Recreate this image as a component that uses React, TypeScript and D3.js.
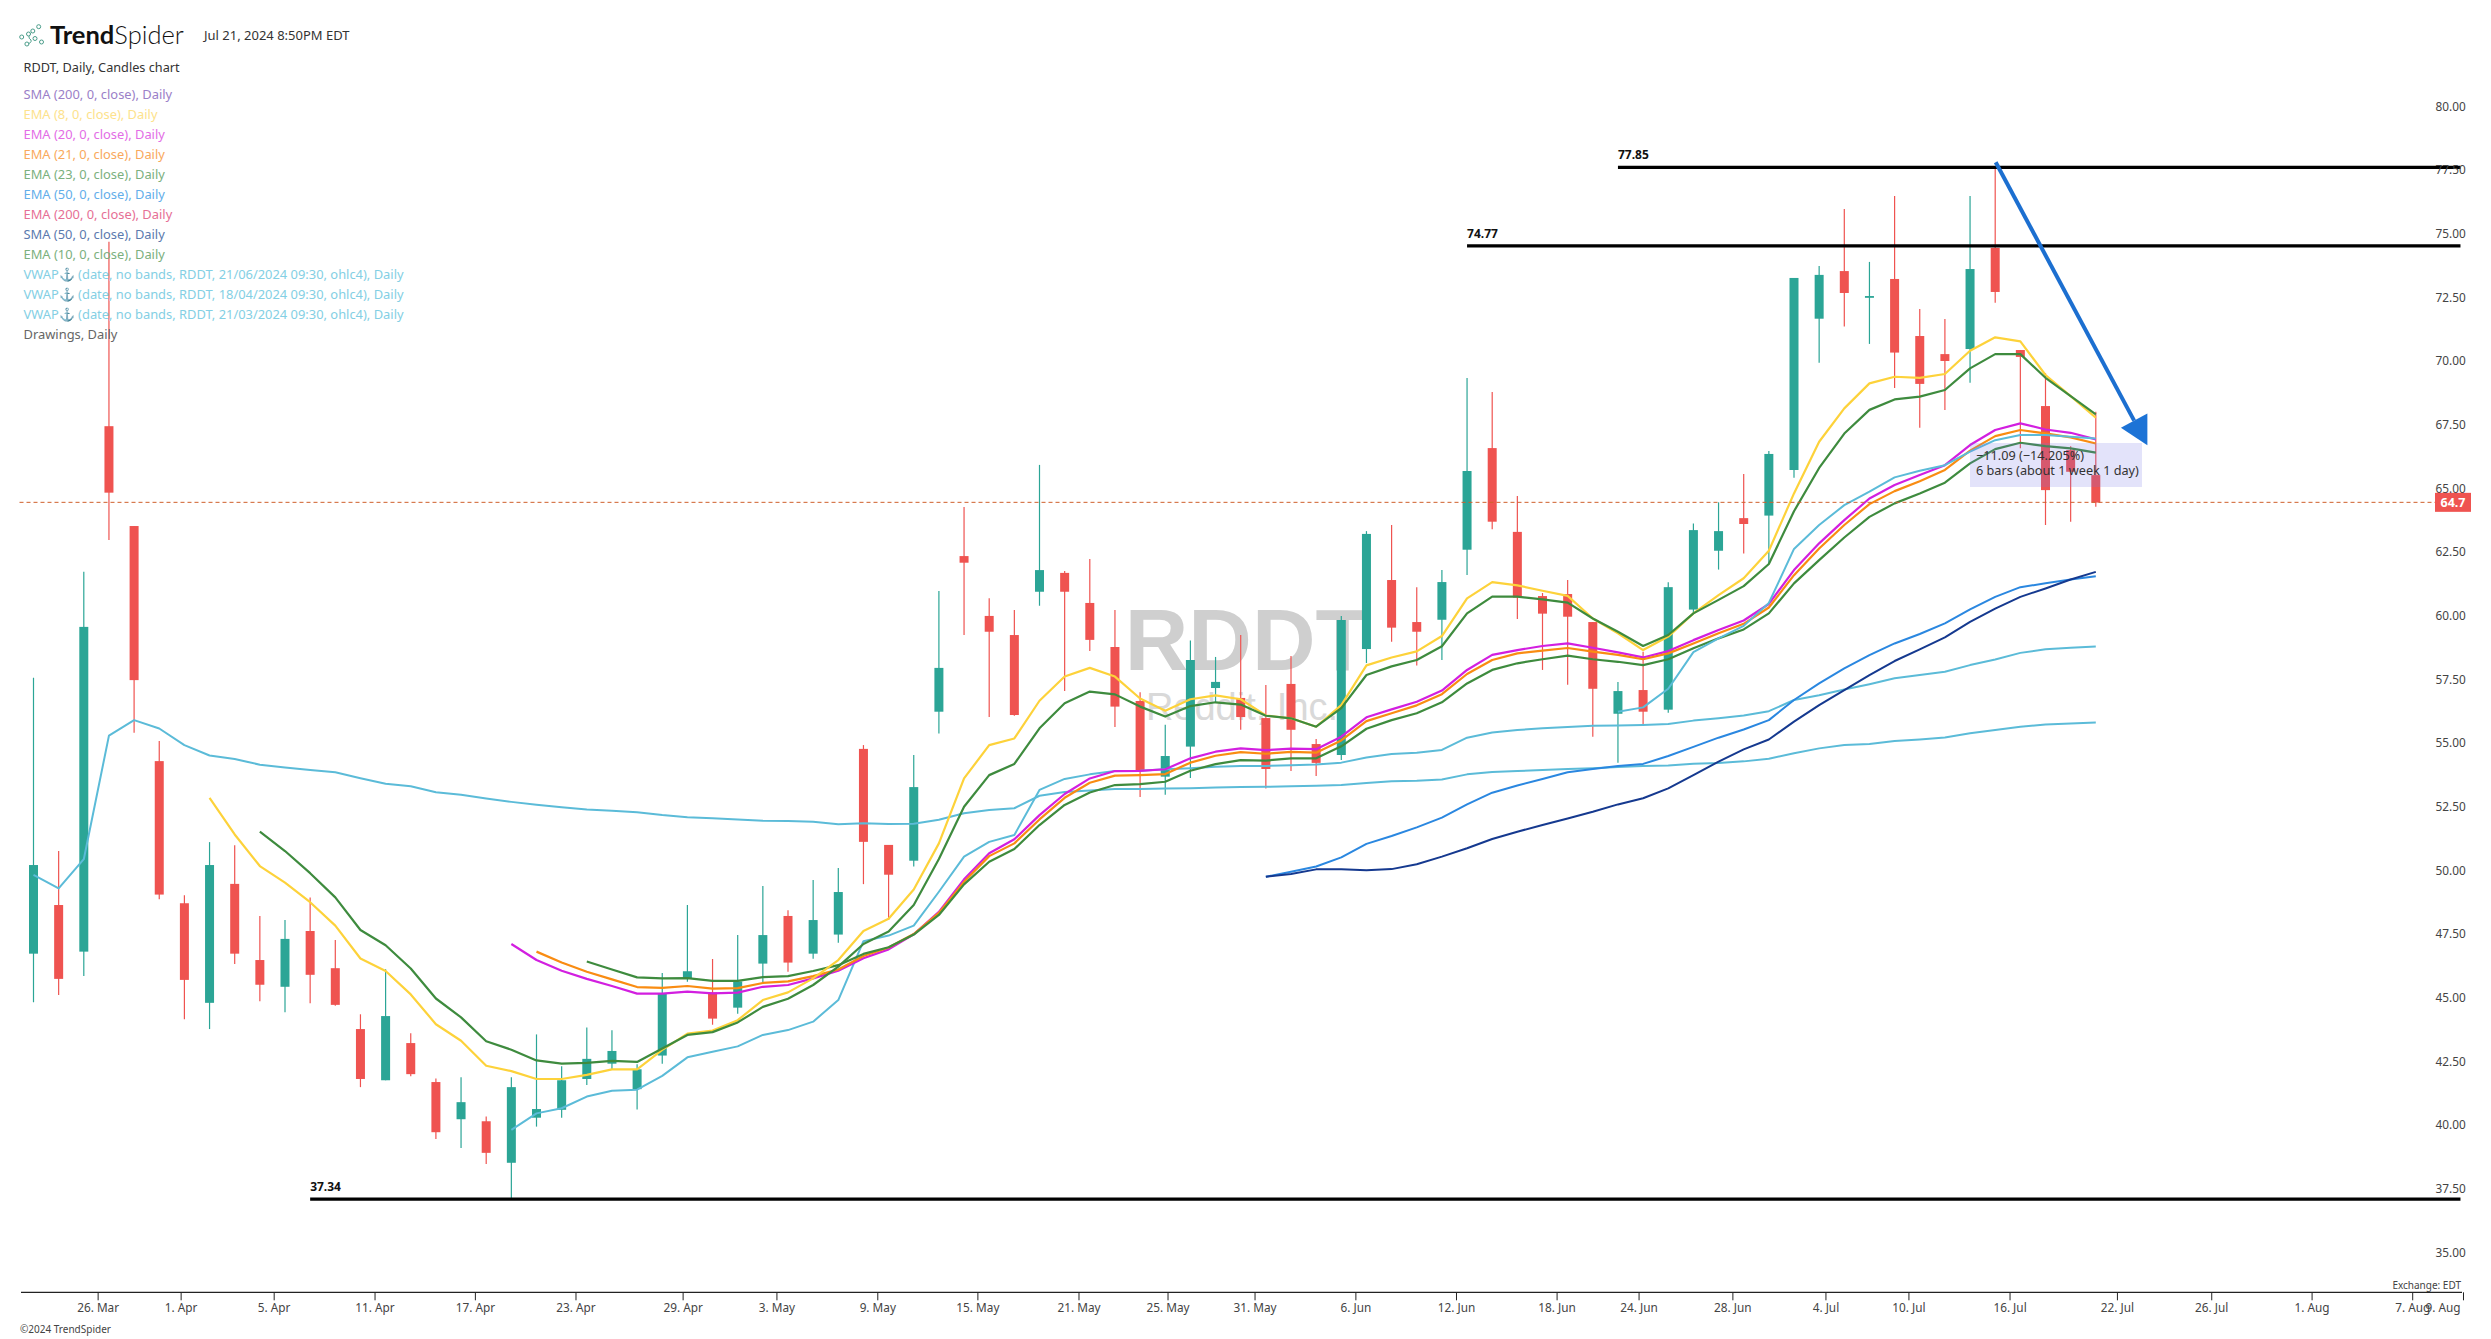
import * as d3 from "d3"

const WIDTH = 2491
const HEIGHT = 1339

const UI_FONT = "'Noto Sans', sans-serif"
const UP = "#2ba596"
const DOWN = "#ef5350"

// daily candles from 21 Mar to 19 Jul, in bar order
const opens = [
  46.98, 48.89, 47.06, 67.69, 63.77, 54.54, 48.96, 45.05, 49.72, 46.73, 45.68, 47.87, 46.41, 44.02, 42.01, 43.47, 41.94,
  40.48, 40.40, 38.77, 40.54, 40.85, 42.06, 42.66, 41.66, 42.98, 46.02, 45.46, 44.86, 46.59, 48.46, 46.98, 47.73, 55.02,
  51.25, 50.63, 56.48, 62.59, 60.24, 59.49, 61.19, 61.93, 60.75, 59.02, 56.90, 53.93, 55.11, 57.41, 57.02, 56.23, 57.57,
  55.21, 54.78, 58.94, 61.65, 60.00, 60.09, 62.84, 66.83, 63.54, 61.02, 61.10, 60.00, 56.40, 57.33, 56.56, 60.49, 62.80,
  64.08, 64.18, 65.97, 71.91, 73.78, 72.73, 73.47, 71.23, 70.52, 70.72, 74.69, 70.68, 68.48, 66.75, 65.77,
]
const highs = [
  57.81, 51.01, 61.97, 74.93, 63.77, 55.33, 49.27, 51.36, 51.24, 48.46, 48.30, 49.19, 47.52, 44.60, 46.37, 43.86, 42.08,
  42.13, 40.59, 42.13, 43.81, 42.56, 44.08, 43.97, 42.64, 46.22, 48.89, 46.77, 47.71, 49.64, 48.68, 49.87, 50.34, 55.17,
  51.25, 54.78, 61.22, 64.52, 60.93, 60.47, 66.17, 62.00, 62.48, 60.47, 57.24, 55.97, 59.28, 58.63, 59.49, 57.53, 58.67,
  55.41, 60.24, 63.57, 63.81, 61.37, 62.04, 69.58, 69.03, 64.95, 61.14, 61.65, 60.00, 57.65, 58.83, 61.56, 63.87, 64.70,
  65.81, 66.72, 73.51, 73.98, 76.22, 74.14, 76.73, 72.29, 71.90, 76.73, 77.85, 70.68, 69.77, 66.90, 68.26,
]
const lows = [
  45.07, 45.36, 46.10, 63.22, 55.65, 49.12, 44.41, 44.02, 46.57, 45.11, 44.68, 45.03, 44.94, 41.74, 42.01, 42.17, 39.70,
  39.35, 38.72, 37.34, 40.19, 40.54, 41.82, 42.44, 40.86, 42.66, 45.88, 44.19, 44.62, 45.82, 46.27, 46.78, 47.41, 49.71,
  48.30, 50.40, 55.62, 59.49, 56.27, 56.32, 60.64, 57.29, 58.86, 55.88, 53.13, 53.22, 53.88, 56.86, 55.77, 53.46, 54.15,
  53.96, 54.58, 58.39, 59.23, 58.29, 58.51, 61.85, 63.64, 60.12, 58.12, 57.54, 55.50, 54.48, 55.97, 56.44, 60.34, 62.06,
  62.69, 62.28, 65.67, 70.18, 71.60, 70.92, 69.19, 67.63, 68.33, 69.40, 72.54, 66.82, 63.81, 63.94, 64.53,
]
const closes = [
  50.46, 45.99, 59.81, 65.08, 57.72, 49.30, 45.95, 50.46, 46.98, 45.76, 47.56, 46.15, 44.97, 42.06, 44.53, 42.25, 39.97,
  41.15, 39.16, 41.74, 40.88, 42.01, 42.85, 43.16, 42.44, 45.40, 46.29, 44.43, 45.89, 47.71, 46.63, 48.30, 49.40, 51.37,
  50.08, 53.52, 58.20, 62.33, 59.62, 56.35, 62.04, 61.19, 59.30, 56.68, 54.17, 54.74, 58.51, 57.65, 56.27, 54.23, 55.77,
  54.47, 60.08, 63.46, 59.78, 59.62, 61.57, 65.93, 63.94, 60.96, 60.33, 60.21, 57.38, 57.29, 56.48, 61.37, 63.61, 63.57,
  63.85, 66.60, 73.51, 73.63, 72.92, 72.80, 70.58, 69.35, 70.25, 73.86, 72.96, 70.41, 65.18, 65.90, 64.69,
]

// indicator values, each starting at the bar where it has enough history
const vwapMarch = [
  50.07, 49.54, 50.69, 55.54, 56.15, 55.82, 55.17, 54.76, 54.62, 54.40, 54.29, 54.19, 54.10, 53.87, 53.65, 53.55, 53.32,
  53.22, 53.07, 52.94, 52.83, 52.73, 52.64, 52.59, 52.53, 52.42, 52.34, 52.30, 52.25, 52.20, 52.19, 52.16, 52.06, 52.10,
  52.07, 52.08, 52.24, 52.49, 52.62, 52.69, 53.18, 53.33, 53.39, 53.45, 53.45, 53.46, 53.47, 53.50, 53.52, 53.53, 53.55,
  53.57, 53.60, 53.68, 53.75, 53.77, 53.82, 54.02, 54.11, 54.15, 54.19, 54.23, 54.26, 54.31, 54.35, 54.37, 54.44, 54.47,
  54.53, 54.63, 54.85, 55.04, 55.17, 55.21, 55.33, 55.39, 55.47, 55.63, 55.76, 55.89, 55.98, 56.02, 56.06,
]
const vwapApril = [
  40.06, 40.71, 40.91, 41.37, 41.60, 41.64, 42.18, 42.91, 43.13, 43.34, 43.79, 43.98, 44.31, 45.16, 47.47, 47.69, 48.08,
  49.41, 50.79, 51.37, 51.64, 53.41, 53.84, 54.02, 54.15, 54.16, 54.22, 54.26, 54.32, 54.35, 54.35, 54.38, 54.41, 54.48,
  54.68, 54.82, 54.87, 54.98, 55.46, 55.66, 55.76, 55.83, 55.88, 55.93, 55.94, 55.96, 56.00, 56.13, 56.22, 56.33, 56.50,
  56.94, 57.13, 57.35, 57.56, 57.79, 57.92, 58.05, 58.31, 58.53, 58.79, 58.93, 58.99, 59.04,
]
const vwapJune = [
  56.48, 56.65, 57.38, 58.82, 59.36, 59.85, 60.75, 62.87, 63.81, 64.59, 65.12, 65.68, 65.94, 66.16, 66.69, 67.14, 67.34,
  67.34, 67.28, 67.21,
]
const ema8 = [
  53.10, 51.66, 50.42, 49.77, 49.00, 48.08, 46.79, 46.30, 45.38, 44.21, 43.56, 42.58, 42.37, 42.06, 42.06, 42.22, 42.44,
  42.44, 43.20, 43.84, 43.96, 44.37, 45.16, 45.46, 46.01, 46.73, 47.87, 48.35, 49.50, 51.31, 53.86, 55.17, 55.43, 56.91,
  57.86, 58.20, 57.86, 57.00, 56.52, 56.97, 57.12, 56.97, 56.33, 56.22, 55.89, 56.74, 58.30, 58.61, 58.85, 59.45, 60.93,
  61.57, 61.44, 61.23, 61.03, 60.14, 59.56, 58.90, 59.43, 60.34, 61.06, 61.72, 62.80, 65.05, 67.08, 68.39, 69.37, 69.63,
  69.59, 69.74, 70.65, 71.18, 71.02, 69.70, 68.87, 68.02,
]
const ema10 = [
  51.77, 51.01, 50.14, 49.19, 47.91, 47.31, 46.40, 45.22, 44.48, 43.54, 43.21, 42.79, 42.66, 42.69, 42.77, 42.73, 43.26,
  43.79, 43.90, 44.28, 44.89, 45.21, 45.75, 46.47, 47.36, 47.85, 48.89, 50.70, 52.75, 53.99, 54.43, 55.83, 56.81, 57.27,
  57.16, 56.68, 56.29, 56.70, 56.85, 56.76, 56.32, 56.22, 55.89, 56.62, 57.92, 58.26, 58.51, 59.05, 60.34, 61.00, 61.00,
  60.89, 60.76, 60.14, 59.62, 59.06, 59.49, 60.34, 60.87, 61.41, 62.28, 64.35, 66.05, 67.40, 68.33, 68.74, 68.85, 69.11,
  69.96, 70.52, 70.52, 69.59, 68.87, 68.15,
]
const ema20 = [
  47.36, 46.73, 46.31, 45.99, 45.71, 45.41, 45.41, 45.49, 45.42, 45.45, 45.68, 45.75, 46.01, 46.31, 46.80, 47.15, 47.74,
  48.62, 49.90, 50.92, 51.47, 52.42, 53.25, 53.86, 54.15, 54.16, 54.22, 54.65, 54.91, 55.04, 54.97, 55.03, 55.01, 55.50,
  56.26, 56.57, 56.87, 57.31, 58.12, 58.71, 58.90, 59.06, 59.16, 58.99, 58.81, 58.61, 58.86, 59.29, 59.69, 60.06, 60.71,
  62.04, 63.09, 64.00, 64.85, 65.38, 65.77, 66.16, 66.95, 67.54, 67.80, 67.56, 67.43, 67.17,
]
const ema21 = [
  47.06, 46.63, 46.27, 45.97, 45.67, 45.64, 45.71, 45.61, 45.63, 45.83, 45.89, 46.10, 46.36, 46.89, 47.22, 47.75, 48.58,
  49.80, 50.81, 51.31, 52.25, 53.10, 53.69, 53.97, 53.99, 54.03, 54.48, 54.75, 54.89, 54.83, 54.90, 54.87, 55.35, 56.11,
  56.42, 56.73, 57.17, 57.96, 58.51, 58.77, 58.88, 58.98, 58.84, 58.71, 58.54, 58.77, 59.16, 59.56, 59.93, 60.57, 61.84,
  62.89, 63.81, 64.63, 65.14, 65.53, 65.97, 66.73, 67.30, 67.54, 67.41, 67.25, 67.01,
]
const ema23 = [
  46.67, 46.36, 46.05, 46.01, 46.02, 45.91, 45.91, 46.06, 46.10, 46.30, 46.53, 46.97, 47.23, 47.73, 48.50, 49.70, 50.59,
  51.09, 52.03, 52.82, 53.31, 53.60, 53.64, 53.73, 54.16, 54.42, 54.58, 54.56, 54.65, 54.65, 55.12, 55.81, 56.15, 56.42,
  56.85, 57.59, 58.12, 58.38, 58.54, 58.68, 58.54, 58.44, 58.31, 58.54, 58.97, 59.36, 59.71, 60.34, 61.52, 62.43, 63.32,
  64.13, 64.66, 65.05, 65.47, 66.23, 66.79, 67.04, 66.91, 66.82, 66.65,
]
const ema50 = [
  50.00, 50.20, 50.40, 50.76, 51.29, 51.60, 51.94, 52.32, 52.84, 53.30, 53.58, 53.84, 54.10, 54.23, 54.35, 54.43, 54.74,
  55.10, 55.46, 55.78, 56.15, 56.94, 57.59, 58.18, 58.70, 59.16, 59.53, 59.95, 60.50, 60.99, 61.37, 61.52, 61.67, 61.80,
]
const sma50 = [
  50.00, 50.11, 50.29, 50.29, 50.26, 50.30, 50.49, 50.79, 51.12, 51.48, 51.77, 52.03, 52.29, 52.55, 52.84, 53.08, 53.47,
  53.99, 54.52, 55.00, 55.39, 56.09, 56.74, 57.33, 57.92, 58.47, 58.93, 59.40, 60.01, 60.53, 60.99, 61.32, 61.67, 61.97,
]

const indicators = [
  { values: vwapMarch, start: 0, color: "#5bbbd8", width: 2 },
  { values: vwapApril, start: 19, color: "#5bbbd8", width: 2 },
  { values: ema50, start: 49, color: "#2a87e0", width: 2 },
  { values: sma50, start: 49, color: "#15398f", width: 2 },
  { values: ema20, start: 19, color: "#d21fe0", width: 2.2 },
  { values: ema21, start: 20, color: "#f98c12", width: 2.2 },
  { values: ema23, start: 22, color: "#3e8b3e", width: 2.2 },
  { values: vwapJune, start: 63, color: "#5bbbd8", width: 2 },
  { values: ema8, start: 7, color: "#fdd23a", width: 2.2 },
  { values: ema10, start: 9, color: "#3e8b3e", width: 2.2 },
]

const legendRows = [
  { label: "SMA (200, 0, close), Daily", color: "#9b80c8" },
  { label: "EMA (8, 0, close), Daily", color: "#fde28c" },
  { label: "EMA (20, 0, close), Daily", color: "#e36de6" },
  { label: "EMA (21, 0, close), Daily", color: "#f9a95c" },
  { label: "EMA (23, 0, close), Daily", color: "#7bb07e" },
  { label: "EMA (50, 0, close), Daily", color: "#63aeea" },
  { label: "EMA (200, 0, close), Daily", color: "#e66f95" },
  { label: "SMA (50, 0, close), Daily", color: "#5b7aae" },
  { label: "EMA (10, 0, close), Daily", color: "#7bb07e" },
  { label: "VWAP⚓ (date, no bands, RDDT, 21/06/2024 09:30, ohlc4), Daily", color: "#84cfe4" },
  { label: "VWAP⚓ (date, no bands, RDDT, 18/04/2024 09:30, ohlc4), Daily", color: "#84cfe4" },
  { label: "VWAP⚓ (date, no bands, RDDT, 21/03/2024 09:30, ohlc4), Daily", color: "#84cfe4" },
  { label: "Drawings, Daily", color: "#666666" },
]

const priceTicks = d3.range(35, 80.01, 2.5)

// the axis labels do not sit on bar centres, so they carry a fractional bar slot
const dateLabels = [
  "26. Mar", "1. Apr", "5. Apr", "11. Apr", "17. Apr", "23. Apr", "29. Apr", "3. May", "9. May", "15. May", "21. May",
  "25. May", "31. May", "6. Jun", "12. Jun", "18. Jun", "24. Jun", "28. Jun", "4. Jul", "10. Jul", "16. Jul", "22. Jul",
  "26. Jul", "1. Aug", "7. Aug", "9. Aug",
]
const dateSlots = [
  2.57, 5.87, 9.57, 13.58, 17.57, 21.57, 25.83, 29.56, 33.57, 37.55, 41.57, 45.11, 48.57, 52.58, 56.58, 60.58, 63.84,
  67.57, 71.27, 74.57, 78.59, 82.86, 86.61, 90.6, 94.6, 96.62,
]

const levelPrices = [37.34, 74.77, 77.85]
const levelStarts = [11.0, 57.0, 63.0]
const lastSlot = 96.5
const lastPrice = 64.7

// trend arrow drawing, from the July top down past the last bar
const arrowFrom = { slot: 78.02, price: 78.05 }
const arrowTo = { slot: 84.05, price: 66.94 }

const x = d3.scaleLinear().domain([0, 82]).range([33.5, 2095.8])
const y = d3.scaleLinear().domain([65, 37.34]).range([494.7, 1199.2])

const BODY_W = 9

function Candles() {
  return (
    <g>
      {opens.map((open, i) => {
        const close = closes[i]
        const color = close >= open ? UP : DOWN
        const top = y(Math.max(open, close))
        const bottom = y(Math.min(open, close))
        return (
          <g key={i}>
            <line x1={x(i)} x2={x(i)} y1={y(highs[i])} y2={y(lows[i])} stroke={color} strokeWidth={1.2} />
            <rect x={x(i) - BODY_W / 2} y={top} width={BODY_W} height={Math.max(bottom - top, 1.5)} fill={color} />
          </g>
        )
      })}
    </g>
  )
}

function Indicators() {
  return (
    <g fill="none" strokeLinejoin="round">
      {indicators.map((ind, k) => {
        const path = d3
          .line<number>()
          .x((_, i) => x(ind.start + i))
          .y(d => y(d))
        return <path key={k} d={path(ind.values) ?? ""} stroke={ind.color} strokeWidth={ind.width} />
      })}
    </g>
  )
}

function Levels() {
  return (
    <g>
      {levelPrices.map((price, i) => (
        <g key={price}>
          <line x1={x(levelStarts[i])} x2={x(lastSlot)} y1={y(price)} y2={y(price)} stroke="#000" strokeWidth={3.2} />
          <text
            x={x(levelStarts[i])}
            y={y(price) - 8}
            fontFamily={UI_FONT}
            fontSize={12}
            fontWeight={700}
            fill="#111"
          >
            {price.toFixed(2)}
          </text>
        </g>
      ))}
    </g>
  )
}

function PriceAxis() {
  return (
    <g fontFamily={UI_FONT} fontSize={11.8} fill="#444">
      {priceTicks.map(t => (
        <text key={t} x={2435.5} y={y(t) - 2}>
          {t.toFixed(2)}
        </text>
      ))}
      <line x1={x(0) - 14} x2={2435} y1={y(lastPrice)} y2={y(lastPrice)} stroke="#cf5f2c" strokeWidth={1} strokeDasharray="4 3" />
      <rect x={2435} y={y(lastPrice) - 9.5} width={36} height={19} fill={DOWN} />
      <text x={2453} y={y(lastPrice) + 4.5} textAnchor="middle" fill="#fff" fontWeight={700} fontSize={12.5}>
        {lastPrice}
      </text>
    </g>
  )
}

function DateAxis() {
  const axisY = 1292.3
  return (
    <g fontFamily={UI_FONT} fontSize={11.8} fill="#444">
      <line x1={21} x2={2462} y1={axisY} y2={axisY} stroke="#222" strokeWidth={1.2} />
      {dateLabels.map((label, i) => {
        const pos = x(dateSlots[i])
        const isLast = i === dateLabels.length - 1
        return (
          <g key={label}>
            <line x1={pos} x2={pos} y1={axisY} y2={axisY + 8} stroke="#222" strokeWidth={1} />
            <text x={isLast ? pos - 3 : pos} y={1311.5} textAnchor={isLast ? "end" : "middle"}>
              {label}
            </text>
          </g>
        )
      })}
      <text x={2461} y={1289} textAnchor="end" fontSize={10}>
        Exchange: EDT
      </text>
      <text x={20} y={1333} fontSize={10}>
        ©2024 TrendSpider
      </text>
    </g>
  )
}

function Arrow() {
  const x1 = x(arrowFrom.slot)
  const y1 = y(arrowFrom.price)
  const x2 = x(arrowTo.slot)
  const y2 = y(arrowTo.price)
  const len = Math.hypot(x2 - x1, y2 - y1)
  const ux = (x2 - x1) / len
  const uy = (y2 - y1) / len
  const headLen = 28
  const headHalf = 15
  const bx = x2 - ux * headLen
  const by = y2 - uy * headLen
  const head = [
    [x2, y2],
    [bx - uy * headHalf, by + ux * headHalf],
    [bx + uy * headHalf, by - ux * headHalf],
  ]
  return (
    <g>
      <line x1={x1} y1={y1} x2={bx} y2={by} stroke="#1c6fd0" strokeWidth={4} />
      <polygon points={head.map(p => p.join(",")).join(" ")} fill="#1c73d6" />
    </g>
  )
}

function Measure() {
  return (
    <g fontFamily={UI_FONT} fontSize={12.7} fill="#333">
      <rect x={1970} y={443} width={172} height={44} fill="rgb(115,115,230)" fillOpacity={0.2} />
      <text x={1976} y={460}>−11.09 (−14.205%)</text>
      <text x={1976} y={475}>6 bars (about 1 week 1 day)</text>
    </g>
  )
}

function Header() {
  const nodes = [
    [38.7, 26.7],
    [32.8, 31],
    [28.5, 34],
    [21.7, 37],
    [35, 38.5],
    [26.9, 44],
    [41.5, 42],
  ]
  return (
    <g fontFamily={UI_FONT}>
      <g fill="none" stroke="#4b9d8a" strokeWidth={1}>
        <path d="M32.8 31 Q26 37 31 40 Q32 43 26.9 44" />
        {nodes.map((n, i) => (
          <circle key={i} cx={n[0]} cy={n[1]} r={2} fill="#fff" />
        ))}
      </g>
      <text x={50} y={44} fontSize={25.5} fontFamily="Lato, sans-serif" fill="#111">
        <tspan fontWeight={700}>Trend</tspan>
        <tspan fontWeight={300}>Spider</tspan>
      </text>
      <text x={204} y={40} fontSize={13} fill="#333">
        Jul 21, 2024 8:50PM EDT
      </text>
      <text x={23.5} y={72} fontSize={12.7} fill="#333">
        RDDT, Daily, Candles chart
      </text>
      <g fontSize={12.9}>
        {legendRows.map((row, i) => (
          <text key={i} x={23.5} y={98.5 + i * 20} fill={row.color}>
            {row.label}
          </text>
        ))}
      </g>
    </g>
  )
}

function Watermark() {
  return (
    <g fontFamily="'Liberation Sans', Arial, sans-serif" textAnchor="middle">
      <text x={1247} y={670} fontSize={88} fontWeight={700} fill="#cfcfcf">
        RDDT
      </text>
      <text x={1242} y={720} fontSize={38} fill="#d9d9d9">
        Reddit, Inc.
      </text>
    </g>
  )
}

export default function App() {
  return (
    <svg
      width={WIDTH}
      height={HEIGHT}
      viewBox={`0 0 ${WIDTH} ${HEIGHT}`}
      style={{ position: "absolute", left: 0, top: 0, background: "#fff" }}
    >
      <Watermark />
      <Candles />
      <Indicators />
      <Levels />
      <PriceAxis />
      <DateAxis />
      <Arrow />
      <Measure />
      <Header />
    </svg>
  )
}
